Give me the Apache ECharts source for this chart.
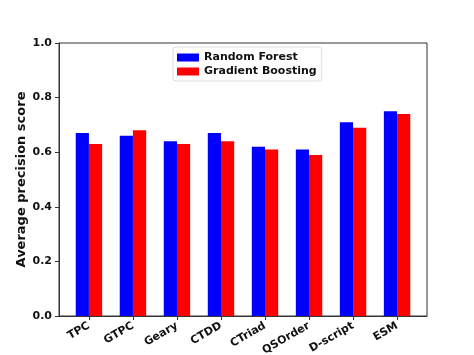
<!DOCTYPE html>
<html><head><meta charset="utf-8">
<script src="https://cdn.jsdelivr.net/npm/echarts@6/dist/echarts.min.js"></script>
<style>html,body{margin:0;padding:0;background:#fff}#c{width:474px;height:355px}</style>
</head><body><div id="c"></div>
<script>
const categories = ['TPC','GTPC','Geary','CTDD','CTriad','QSOrder','D-script','ESM'];
const randomForest = [0.67,0.66,0.64,0.67,0.62,0.61,0.71,0.75];
const gradientBoosting = [0.63,0.68,0.63,0.64,0.61,0.59,0.69,0.74];
const yTicks = [0.0,0.2,0.4,0.6,0.8,1.0];

const positions = categories.map((c,i)=>i);
const font = 'DejaVu Sans';
const chart = echarts.init(document.getElementById('c'));
chart.setOption({
  animation:false,
  backgroundColor:'#fff',
  grid:{left:59,right:47,top:43,bottom:39,outerBoundsMode:'none',containLabel:false,show:true,borderColor:'#333',borderWidth:1,backgroundColor:'transparent'},
  legend:{
    orient:'vertical',left:173,top:47,itemWidth:22,itemHeight:8,itemGap:3,
    padding:[5,5,4,4],
    borderColor:'#ddd',borderWidth:1,borderRadius:3,
    icon:'rect',
    textStyle:{fontFamily:font,fontWeight:'bold',fontSize:11,color:'#111'},
    data:['Random Forest','Gradient Boosting']
  },
  xAxis:{
    type:'value',min:-0.68,max:7.68,
    splitLine:{show:false},
    axisLine:{show:true,onZero:false,lineStyle:{color:'#333'}},
    axisTick:{show:true,customValues:positions,length:4,lineStyle:{color:'#333'}},
    axisLabel:{customValues:positions,rotate:30,margin:9,
      formatter:v=>categories[Math.round(v)],
      fontFamily:font,fontWeight:'bold',fontSize:11,color:'#111'}
  },
  yAxis:{
    type:'value',min:0,max:1,interval:0.2,
    name:'Average precision score',nameLocation:'middle',nameGap:31,nameMoveOverlap:false,
    nameTextStyle:{fontFamily:font,fontWeight:'bold',fontSize:13,color:'#111'},
    splitLine:{show:false},
    axisLine:{show:true,onZero:false,lineStyle:{color:'#333'}},
    axisTick:{show:true,length:4,lineStyle:{color:'#333'}},
    axisLabel:{formatter:v=>v.toFixed(1),margin:7,fontFamily:font,fontWeight:'bold',fontSize:11,color:'#111'}
  },
  series:[
    {name:'Random Forest',type:'bar',barWidth:13.2,barGap:'0%',itemStyle:{color:'#0000ff'},
     data:positions.map((p,i)=>[p,randomForest[i]])},
    {name:'Gradient Boosting',type:'bar',barWidth:13.2,barGap:'0%',itemStyle:{color:'#ff0000'},
     data:positions.map((p,i)=>[p,gradientBoosting[i]])}
  ]
});
</script></body></html>
